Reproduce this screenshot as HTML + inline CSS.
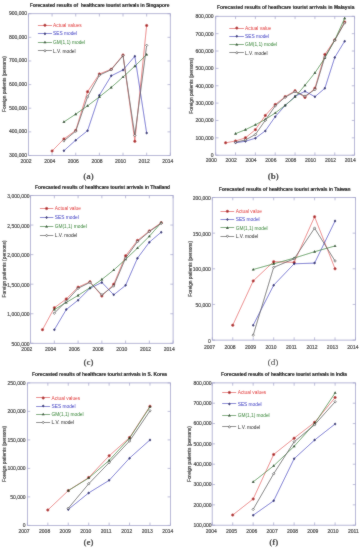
<!DOCTYPE html>
<html><head><meta charset="utf-8"><style>
html,body{margin:0;padding:0;background:#fff;}
svg{display:block;}
.t{font-family:"Liberation Sans",sans-serif;font-size:5.0px;fill:#2a2a2a;stroke:#2a2a2a;stroke-width:0.14px;}
.ti{font-family:"Liberation Sans",sans-serif;font-weight:bold;font-size:4.9px;fill:#000;stroke:#000;stroke-width:0.12px;}
.lg{font-family:"Liberation Sans",sans-serif;font-size:4.8px;}
.lab{font-family:"Liberation Serif",serif;font-weight:bold;font-size:9px;fill:#111;}
</style></head><body>
<svg width="363" height="550" viewBox="0 0 363 550">
<defs><filter id="bl" x="0" y="0" width="363" height="550" filterUnits="userSpaceOnUse"><feConvolveMatrix order="3" kernelMatrix="1 2 1 2 24 2 1 2 1" edgeMode="duplicate" preserveAlpha="true"/></filter></defs>
<rect width="363" height="550" fill="#fff"/>
<g filter="url(#bl)">
<rect width="363" height="550" fill="#fff"/>
<polyline points="52.09,151.01 63.91,138.96 75.73,130.45 87.55,91.69 99.38,73.97 111.20,69.24 123.02,55.06 134.84,141.32 146.66,25.52" fill="none" stroke="#e04040" stroke-width="0.62"/>
<circle cx="52.09" cy="151.01" r="1.25" fill="#a01212" stroke="#c82828" stroke-width="0.45"/>
<circle cx="63.91" cy="138.96" r="1.25" fill="#a01212" stroke="#c82828" stroke-width="0.45"/>
<circle cx="75.73" cy="130.45" r="1.25" fill="#a01212" stroke="#c82828" stroke-width="0.45"/>
<circle cx="87.55" cy="91.69" r="1.25" fill="#a01212" stroke="#c82828" stroke-width="0.45"/>
<circle cx="99.38" cy="73.97" r="1.25" fill="#a01212" stroke="#c82828" stroke-width="0.45"/>
<circle cx="111.20" cy="69.24" r="1.25" fill="#a01212" stroke="#c82828" stroke-width="0.45"/>
<circle cx="123.02" cy="55.06" r="1.25" fill="#a01212" stroke="#c82828" stroke-width="0.45"/>
<circle cx="134.84" cy="141.32" r="1.25" fill="#a01212" stroke="#c82828" stroke-width="0.45"/>
<circle cx="146.66" cy="25.52" r="1.25" fill="#a01212" stroke="#c82828" stroke-width="0.45"/>
<polyline points="63.91,150.77 75.73,140.14 87.55,130.69 99.38,95.23 111.20,75.86 123.02,69.95 134.84,56.24 146.66,133.05" fill="none" stroke="#3c3cc0" stroke-width="0.7"/>
<path d="M63.91 149.27L65.26 150.77L63.91 152.27L62.56 150.77Z" fill="#10106a"/>
<path d="M75.73 138.64L77.08 140.14L75.73 141.64L74.38 140.14Z" fill="#10106a"/>
<path d="M87.55 129.19L88.90 130.69L87.55 132.19L86.20 130.69Z" fill="#10106a"/>
<path d="M99.38 93.73L100.73 95.23L99.38 96.73L98.03 95.23Z" fill="#10106a"/>
<path d="M111.20 74.36L112.55 75.86L111.20 77.36L109.85 75.86Z" fill="#10106a"/>
<path d="M123.02 68.45L124.37 69.95L123.02 71.45L121.67 69.95Z" fill="#10106a"/>
<path d="M134.84 54.74L136.19 56.24L134.84 57.74L133.49 56.24Z" fill="#10106a"/>
<path d="M146.66 131.55L148.01 133.05L146.66 134.55L145.31 133.05Z" fill="#10106a"/>
<polyline points="63.91,121.94 75.73,114.14 87.55,105.87 99.38,96.89 111.20,87.44 123.02,77.04 134.84,66.17 146.66,54.59" fill="none" stroke="#2b802b" stroke-width="0.7"/>
<path d="M63.91 120.34L65.36 122.94L62.46 122.94Z" fill="#0e3e0e"/>
<path d="M75.73 112.54L77.18 115.14L74.28 115.14Z" fill="#0e3e0e"/>
<path d="M87.55 104.27L89.00 106.87L86.10 106.87Z" fill="#0e3e0e"/>
<path d="M99.38 95.29L100.83 97.89L97.93 97.89Z" fill="#0e3e0e"/>
<path d="M111.20 85.84L112.65 88.44L109.75 88.44Z" fill="#0e3e0e"/>
<path d="M123.02 75.44L124.47 78.04L121.57 78.04Z" fill="#0e3e0e"/>
<path d="M134.84 64.57L136.29 67.17L133.39 67.17Z" fill="#0e3e0e"/>
<path d="M146.66 52.99L148.11 55.59L145.21 55.59Z" fill="#0e3e0e"/>
<polyline points="63.91,140.85 75.73,131.16 87.55,96.89 99.38,75.15 111.20,69.71 123.02,55.77 134.84,135.41 146.66,45.37" fill="none" stroke="#454545" stroke-width="0.7"/>
<path d="M63.91 139.55L65.11 140.85L63.91 142.15L62.71 140.85Z" fill="#fff" fill-opacity="0.75" stroke="#3a3a3a" stroke-width="0.6"/>
<path d="M75.73 129.86L76.93 131.16L75.73 132.46L74.53 131.16Z" fill="#fff" fill-opacity="0.75" stroke="#3a3a3a" stroke-width="0.6"/>
<path d="M87.55 95.59L88.75 96.89L87.55 98.19L86.35 96.89Z" fill="#fff" fill-opacity="0.75" stroke="#3a3a3a" stroke-width="0.6"/>
<path d="M99.38 73.85L100.58 75.15L99.38 76.45L98.18 75.15Z" fill="#fff" fill-opacity="0.75" stroke="#3a3a3a" stroke-width="0.6"/>
<path d="M111.20 68.41L112.40 69.71L111.20 71.01L110.00 69.71Z" fill="#fff" fill-opacity="0.75" stroke="#3a3a3a" stroke-width="0.6"/>
<path d="M123.02 54.47L124.22 55.77L123.02 57.07L121.82 55.77Z" fill="#fff" fill-opacity="0.75" stroke="#3a3a3a" stroke-width="0.6"/>
<path d="M134.84 134.11L136.04 135.41L134.84 136.71L133.64 135.41Z" fill="#fff" fill-opacity="0.75" stroke="#3a3a3a" stroke-width="0.6"/>
<path d="M146.66 44.07L147.86 45.37L146.66 46.67L145.46 45.37Z" fill="#fff" fill-opacity="0.75" stroke="#3a3a3a" stroke-width="0.6"/>
<rect x="28.45" y="13.70" width="141.85" height="141.80" fill="none" stroke="#a2a2cc" stroke-width="0.8"/>
<path d="M28.45 155.50v-2.8M28.45 13.70v2.8" stroke="#a2a2cc" stroke-width="0.7"/>
<text x="26.10" y="163.10" text-anchor="middle" class="t">2002</text>
<path d="M52.09 155.50v-2.8M52.09 13.70v2.8" stroke="#a2a2cc" stroke-width="0.7"/>
<text x="49.72" y="163.10" text-anchor="middle" class="t">2004</text>
<path d="M75.73 155.50v-2.8M75.73 13.70v2.8" stroke="#a2a2cc" stroke-width="0.7"/>
<text x="73.33" y="163.10" text-anchor="middle" class="t">2006</text>
<path d="M99.38 155.50v-2.8M99.38 13.70v2.8" stroke="#a2a2cc" stroke-width="0.7"/>
<text x="96.95" y="163.10" text-anchor="middle" class="t">2008</text>
<path d="M123.02 155.50v-2.8M123.02 13.70v2.8" stroke="#a2a2cc" stroke-width="0.7"/>
<text x="120.57" y="163.10" text-anchor="middle" class="t">2010</text>
<path d="M146.66 155.50v-2.8M146.66 13.70v2.8" stroke="#a2a2cc" stroke-width="0.7"/>
<text x="144.18" y="163.10" text-anchor="middle" class="t">2012</text>
<path d="M170.30 155.50v-2.8M170.30 13.70v2.8" stroke="#a2a2cc" stroke-width="0.7"/>
<text x="167.80" y="163.10" text-anchor="middle" class="t">2014</text>
<path d="M28.45 155.50h2.8M170.30 155.50h-2.8" stroke="#a2a2cc" stroke-width="0.7"/>
<text x="27.10" y="157.00" text-anchor="end" class="t">300,000</text>
<path d="M28.45 131.87h2.8M170.30 131.87h-2.8" stroke="#a2a2cc" stroke-width="0.7"/>
<text x="27.10" y="133.37" text-anchor="end" class="t">400,000</text>
<path d="M28.45 108.23h2.8M170.30 108.23h-2.8" stroke="#a2a2cc" stroke-width="0.7"/>
<text x="27.10" y="109.73" text-anchor="end" class="t">500,000</text>
<path d="M28.45 84.60h2.8M170.30 84.60h-2.8" stroke="#a2a2cc" stroke-width="0.7"/>
<text x="27.10" y="86.10" text-anchor="end" class="t">600,000</text>
<path d="M28.45 60.97h2.8M170.30 60.97h-2.8" stroke="#a2a2cc" stroke-width="0.7"/>
<text x="27.10" y="62.47" text-anchor="end" class="t">700,000</text>
<path d="M28.45 37.33h2.8M170.30 37.33h-2.8" stroke="#a2a2cc" stroke-width="0.7"/>
<text x="27.10" y="38.83" text-anchor="end" class="t">800,000</text>
<path d="M28.45 13.70h2.8M170.30 13.70h-2.8" stroke="#a2a2cc" stroke-width="0.7"/>
<text x="27.10" y="15.20" text-anchor="end" class="t">900,000</text>
<text x="29.70" y="6.60" textLength="139.70" lengthAdjust="spacing" class="ti" style="white-space:pre">Forecasted results of  healthcare tourist arrivals in Singapore</text>
<text transform="translate(6.20,111.90) rotate(-90)" textLength="55.80" lengthAdjust="spacing" class="t" style="font-size:4.75px">Foreign patients (persons)</text>
<line x1="37.9" y1="25.50" x2="52.0" y2="25.50" stroke="#e04040" stroke-width="0.8" stroke-opacity="0.85"/>
<circle cx="44.95" cy="25.20" r="1.25" fill="#a01212" stroke="#c82828" stroke-width="0.45"/>
<text x="53.1" y="26.92" class="lg" style="fill:#e03030">Actual values</text>
<line x1="37.9" y1="33.50" x2="52.0" y2="33.50" stroke="#3c3cc0" stroke-width="0.8" stroke-opacity="0.85"/>
<path d="M44.95 32.23L46.30 33.73L44.95 35.23L43.60 33.73Z" fill="#10106a"/>
<text x="53.1" y="35.45" class="lg" style="fill:#3030c0">SES model</text>
<line x1="37.9" y1="42.50" x2="52.0" y2="42.50" stroke="#2b802b" stroke-width="0.8" stroke-opacity="0.85"/>
<path d="M44.95 40.66L46.40 43.26L43.50 43.26Z" fill="#0e3e0e"/>
<text x="53.1" y="43.98" class="lg" style="fill:#2a802a">GM(1,1) model</text>
<line x1="37.9" y1="50.50" x2="52.0" y2="50.50" stroke="#454545" stroke-width="0.8" stroke-opacity="0.85"/>
<path d="M44.95 49.49L46.15 50.79L44.95 52.09L43.75 50.79Z" fill="#fff" fill-opacity="0.75" stroke="#3a3a3a" stroke-width="0.6"/>
<text x="53.1" y="52.51" class="lg" style="fill:#111111">L.V. model</text>
<text x="88.50" y="178.85" text-anchor="middle" class="lab">(a)</text>
<polyline points="225.62,142.87 235.54,140.96 245.46,137.84 255.39,129.68 265.31,115.44 275.23,104.50 285.15,96.69 295.07,90.79 304.99,97.38 314.91,88.18 324.84,54.50 334.76,39.91 344.68,22.03" fill="none" stroke="#e04040" stroke-width="0.62"/>
<circle cx="225.62" cy="142.87" r="1.25" fill="#a01212" stroke="#c82828" stroke-width="0.45"/>
<circle cx="235.54" cy="140.96" r="1.25" fill="#a01212" stroke="#c82828" stroke-width="0.45"/>
<circle cx="245.46" cy="137.84" r="1.25" fill="#a01212" stroke="#c82828" stroke-width="0.45"/>
<circle cx="255.39" cy="129.68" r="1.25" fill="#a01212" stroke="#c82828" stroke-width="0.45"/>
<circle cx="265.31" cy="115.44" r="1.25" fill="#a01212" stroke="#c82828" stroke-width="0.45"/>
<circle cx="275.23" cy="104.50" r="1.25" fill="#a01212" stroke="#c82828" stroke-width="0.45"/>
<circle cx="285.15" cy="96.69" r="1.25" fill="#a01212" stroke="#c82828" stroke-width="0.45"/>
<circle cx="295.07" cy="90.79" r="1.25" fill="#a01212" stroke="#c82828" stroke-width="0.45"/>
<circle cx="304.99" cy="97.38" r="1.25" fill="#a01212" stroke="#c82828" stroke-width="0.45"/>
<circle cx="314.91" cy="88.18" r="1.25" fill="#a01212" stroke="#c82828" stroke-width="0.45"/>
<circle cx="324.84" cy="54.50" r="1.25" fill="#a01212" stroke="#c82828" stroke-width="0.45"/>
<circle cx="334.76" cy="39.91" r="1.25" fill="#a01212" stroke="#c82828" stroke-width="0.45"/>
<circle cx="344.68" cy="22.03" r="1.25" fill="#a01212" stroke="#c82828" stroke-width="0.45"/>
<polyline points="235.54,142.70 245.46,141.31 255.39,138.18 265.31,130.89 275.23,116.66 285.15,105.54 295.07,96.34 304.99,91.31 314.91,96.69 324.84,88.35 334.76,57.45 344.68,41.13" fill="none" stroke="#3c3cc0" stroke-width="0.7"/>
<path d="M235.54 141.20L236.89 142.70L235.54 144.20L234.19 142.70Z" fill="#10106a"/>
<path d="M245.46 139.81L246.81 141.31L245.46 142.81L244.11 141.31Z" fill="#10106a"/>
<path d="M255.39 136.68L256.74 138.18L255.39 139.68L254.04 138.18Z" fill="#10106a"/>
<path d="M265.31 129.39L266.66 130.89L265.31 132.39L263.96 130.89Z" fill="#10106a"/>
<path d="M275.23 115.16L276.58 116.66L275.23 118.16L273.88 116.66Z" fill="#10106a"/>
<path d="M285.15 104.04L286.50 105.54L285.15 107.04L283.80 105.54Z" fill="#10106a"/>
<path d="M295.07 94.84L296.42 96.34L295.07 97.84L293.72 96.34Z" fill="#10106a"/>
<path d="M304.99 89.81L306.34 91.31L304.99 92.81L303.64 91.31Z" fill="#10106a"/>
<path d="M314.91 95.19L316.26 96.69L314.91 98.19L313.56 96.69Z" fill="#10106a"/>
<path d="M324.84 86.85L326.19 88.35L324.84 89.85L323.49 88.35Z" fill="#10106a"/>
<path d="M334.76 55.95L336.11 57.45L334.76 58.95L333.41 57.45Z" fill="#10106a"/>
<path d="M344.68 39.63L346.03 41.13L344.68 42.63L343.33 41.13Z" fill="#10106a"/>
<polyline points="235.54,133.67 245.46,129.68 255.39,124.82 265.31,119.43 275.23,113.01 285.15,105.37 295.07,97.04 304.99,85.23 314.91,72.90 324.84,57.97 334.76,40.09 344.68,18.21" fill="none" stroke="#2b802b" stroke-width="0.7"/>
<path d="M235.54 132.07L236.99 134.67L234.09 134.67Z" fill="#0e3e0e"/>
<path d="M245.46 128.08L246.91 130.68L244.01 130.68Z" fill="#0e3e0e"/>
<path d="M255.39 123.22L256.84 125.82L253.94 125.82Z" fill="#0e3e0e"/>
<path d="M265.31 117.83L266.76 120.43L263.86 120.43Z" fill="#0e3e0e"/>
<path d="M275.23 111.41L276.68 114.01L273.78 114.01Z" fill="#0e3e0e"/>
<path d="M285.15 103.77L286.60 106.37L283.70 106.37Z" fill="#0e3e0e"/>
<path d="M295.07 95.44L296.52 98.04L293.62 98.04Z" fill="#0e3e0e"/>
<path d="M304.99 83.63L306.44 86.23L303.54 86.23Z" fill="#0e3e0e"/>
<path d="M314.91 71.30L316.36 73.90L313.46 73.90Z" fill="#0e3e0e"/>
<path d="M324.84 56.37L326.29 58.97L323.39 58.97Z" fill="#0e3e0e"/>
<path d="M334.76 38.49L336.21 41.09L333.31 41.09Z" fill="#0e3e0e"/>
<path d="M344.68 16.61L346.13 19.21L343.23 19.21Z" fill="#0e3e0e"/>
<polyline points="235.54,142.35 245.46,139.92 255.39,134.54 265.31,120.30 275.23,105.89 285.15,97.21 295.07,91.65 304.99,96.17 314.91,89.57 324.84,57.10 334.76,40.26 344.68,22.90" fill="none" stroke="#454545" stroke-width="0.7"/>
<path d="M235.54 141.05L236.74 142.35L235.54 143.65L234.34 142.35Z" fill="#fff" fill-opacity="0.75" stroke="#3a3a3a" stroke-width="0.6"/>
<path d="M245.46 138.62L246.66 139.92L245.46 141.22L244.26 139.92Z" fill="#fff" fill-opacity="0.75" stroke="#3a3a3a" stroke-width="0.6"/>
<path d="M255.39 133.24L256.59 134.54L255.39 135.84L254.19 134.54Z" fill="#fff" fill-opacity="0.75" stroke="#3a3a3a" stroke-width="0.6"/>
<path d="M265.31 119.00L266.51 120.30L265.31 121.60L264.11 120.30Z" fill="#fff" fill-opacity="0.75" stroke="#3a3a3a" stroke-width="0.6"/>
<path d="M275.23 104.59L276.43 105.89L275.23 107.19L274.03 105.89Z" fill="#fff" fill-opacity="0.75" stroke="#3a3a3a" stroke-width="0.6"/>
<path d="M285.15 95.91L286.35 97.21L285.15 98.51L283.95 97.21Z" fill="#fff" fill-opacity="0.75" stroke="#3a3a3a" stroke-width="0.6"/>
<path d="M295.07 90.35L296.27 91.65L295.07 92.95L293.87 91.65Z" fill="#fff" fill-opacity="0.75" stroke="#3a3a3a" stroke-width="0.6"/>
<path d="M304.99 94.87L306.19 96.17L304.99 97.47L303.79 96.17Z" fill="#fff" fill-opacity="0.75" stroke="#3a3a3a" stroke-width="0.6"/>
<path d="M314.91 88.27L316.11 89.57L314.91 90.87L313.71 89.57Z" fill="#fff" fill-opacity="0.75" stroke="#3a3a3a" stroke-width="0.6"/>
<path d="M324.84 55.80L326.04 57.10L324.84 58.40L323.64 57.10Z" fill="#fff" fill-opacity="0.75" stroke="#3a3a3a" stroke-width="0.6"/>
<path d="M334.76 38.96L335.96 40.26L334.76 41.56L333.56 40.26Z" fill="#fff" fill-opacity="0.75" stroke="#3a3a3a" stroke-width="0.6"/>
<path d="M344.68 21.60L345.88 22.90L344.68 24.20L343.48 22.90Z" fill="#fff" fill-opacity="0.75" stroke="#3a3a3a" stroke-width="0.6"/>
<rect x="215.70" y="16.30" width="138.90" height="138.90" fill="none" stroke="#a2a2cc" stroke-width="0.8"/>
<path d="M215.70 155.20v-2.8M215.70 16.30v2.8" stroke="#a2a2cc" stroke-width="0.7"/>
<text x="211.30" y="162.30" text-anchor="middle" class="t">2000</text>
<path d="M235.54 155.20v-2.8M235.54 16.30v2.8" stroke="#a2a2cc" stroke-width="0.7"/>
<text x="231.16" y="162.30" text-anchor="middle" class="t">2002</text>
<path d="M255.39 155.20v-2.8M255.39 16.30v2.8" stroke="#a2a2cc" stroke-width="0.7"/>
<text x="251.01" y="162.30" text-anchor="middle" class="t">2004</text>
<path d="M275.23 155.20v-2.8M275.23 16.30v2.8" stroke="#a2a2cc" stroke-width="0.7"/>
<text x="270.87" y="162.30" text-anchor="middle" class="t">2006</text>
<path d="M295.07 155.20v-2.8M295.07 16.30v2.8" stroke="#a2a2cc" stroke-width="0.7"/>
<text x="290.73" y="162.30" text-anchor="middle" class="t">2008</text>
<path d="M314.91 155.20v-2.8M314.91 16.30v2.8" stroke="#a2a2cc" stroke-width="0.7"/>
<text x="310.59" y="162.30" text-anchor="middle" class="t">2010</text>
<path d="M334.76 155.20v-2.8M334.76 16.30v2.8" stroke="#a2a2cc" stroke-width="0.7"/>
<text x="330.44" y="162.30" text-anchor="middle" class="t">2012</text>
<path d="M354.60 155.20v-2.8M354.60 16.30v2.8" stroke="#a2a2cc" stroke-width="0.7"/>
<text x="350.30" y="162.30" text-anchor="middle" class="t">2014</text>
<path d="M215.70 155.20h2.8M354.60 155.20h-2.8" stroke="#a2a2cc" stroke-width="0.7"/>
<text x="213.50" y="157.10" text-anchor="end" class="t">0</text>
<path d="M215.70 137.84h2.8M354.60 137.84h-2.8" stroke="#a2a2cc" stroke-width="0.7"/>
<text x="213.50" y="139.74" text-anchor="end" class="t">100,000</text>
<path d="M215.70 120.47h2.8M354.60 120.47h-2.8" stroke="#a2a2cc" stroke-width="0.7"/>
<text x="213.50" y="122.38" text-anchor="end" class="t">200,000</text>
<path d="M215.70 103.11h2.8M354.60 103.11h-2.8" stroke="#a2a2cc" stroke-width="0.7"/>
<text x="213.50" y="105.01" text-anchor="end" class="t">300,000</text>
<path d="M215.70 85.75h2.8M354.60 85.75h-2.8" stroke="#a2a2cc" stroke-width="0.7"/>
<text x="213.50" y="87.65" text-anchor="end" class="t">400,000</text>
<path d="M215.70 68.39h2.8M354.60 68.39h-2.8" stroke="#a2a2cc" stroke-width="0.7"/>
<text x="213.50" y="70.29" text-anchor="end" class="t">500,000</text>
<path d="M215.70 51.03h2.8M354.60 51.03h-2.8" stroke="#a2a2cc" stroke-width="0.7"/>
<text x="213.50" y="52.93" text-anchor="end" class="t">600,000</text>
<path d="M215.70 33.66h2.8M354.60 33.66h-2.8" stroke="#a2a2cc" stroke-width="0.7"/>
<text x="213.50" y="35.56" text-anchor="end" class="t">700,000</text>
<path d="M215.70 16.30h2.8M354.60 16.30h-2.8" stroke="#a2a2cc" stroke-width="0.7"/>
<text x="213.50" y="18.20" text-anchor="end" class="t">800,000</text>
<text x="216.90" y="8.75" textLength="137.50" lengthAdjust="spacing" class="ti" style="white-space:pre">Forecasted results of heathcare tourist arrivals in Malaysia</text>
<text transform="translate(192.75,113.65) rotate(-90)" textLength="55.80" lengthAdjust="spacing" class="t" style="font-size:4.75px">Foreign patients (persons)</text>
<line x1="229.3" y1="28.50" x2="243.9" y2="28.50" stroke="#e04040" stroke-width="0.8" stroke-opacity="0.85"/>
<circle cx="236.80" cy="28.10" r="1.25" fill="#a01212" stroke="#c82828" stroke-width="0.45"/>
<text x="245.1" y="29.82" class="lg" style="fill:#e03030">Actual value</text>
<line x1="229.3" y1="36.50" x2="243.9" y2="36.50" stroke="#3c3cc0" stroke-width="0.8" stroke-opacity="0.85"/>
<path d="M236.80 34.83L238.15 36.33L236.80 37.83L235.45 36.33Z" fill="#10106a"/>
<text x="245.1" y="38.05" class="lg" style="fill:#3030c0">SES model</text>
<line x1="229.3" y1="44.50" x2="243.9" y2="44.50" stroke="#2b802b" stroke-width="0.8" stroke-opacity="0.85"/>
<path d="M236.80 42.96L238.25 45.56L235.35 45.56Z" fill="#0e3e0e"/>
<text x="245.1" y="46.28" class="lg" style="fill:#2a802a">GM(1,1) model</text>
<line x1="229.3" y1="52.50" x2="243.9" y2="52.50" stroke="#454545" stroke-width="0.8" stroke-opacity="0.85"/>
<path d="M236.80 51.49L238.00 52.79L236.80 54.09L235.60 52.79Z" fill="#fff" fill-opacity="0.75" stroke="#3a3a3a" stroke-width="0.6"/>
<text x="245.1" y="54.51" class="lg" style="fill:#111111">L.V. model</text>
<text x="273.30" y="178.95" text-anchor="middle" class="lab">(b)</text>
<polyline points="42.48,329.70 54.35,307.83 66.22,298.96 78.10,287.14 89.97,281.82 101.85,296.00 113.72,284.18 125.60,255.80 137.47,240.43 149.35,230.97 161.22,222.70" fill="none" stroke="#e04040" stroke-width="0.62"/>
<circle cx="42.48" cy="329.70" r="1.25" fill="#a01212" stroke="#c82828" stroke-width="0.45"/>
<circle cx="54.35" cy="307.83" r="1.25" fill="#a01212" stroke="#c82828" stroke-width="0.45"/>
<circle cx="66.22" cy="298.96" r="1.25" fill="#a01212" stroke="#c82828" stroke-width="0.45"/>
<circle cx="78.10" cy="287.14" r="1.25" fill="#a01212" stroke="#c82828" stroke-width="0.45"/>
<circle cx="89.97" cy="281.82" r="1.25" fill="#a01212" stroke="#c82828" stroke-width="0.45"/>
<circle cx="101.85" cy="296.00" r="1.25" fill="#a01212" stroke="#c82828" stroke-width="0.45"/>
<circle cx="113.72" cy="284.18" r="1.25" fill="#a01212" stroke="#c82828" stroke-width="0.45"/>
<circle cx="125.60" cy="255.80" r="1.25" fill="#a01212" stroke="#c82828" stroke-width="0.45"/>
<circle cx="137.47" cy="240.43" r="1.25" fill="#a01212" stroke="#c82828" stroke-width="0.45"/>
<circle cx="149.35" cy="230.97" r="1.25" fill="#a01212" stroke="#c82828" stroke-width="0.45"/>
<circle cx="161.22" cy="222.70" r="1.25" fill="#a01212" stroke="#c82828" stroke-width="0.45"/>
<polyline points="54.35,329.70 66.22,309.60 78.10,300.14 89.97,288.32 101.85,282.41 113.72,294.82 125.60,285.36 137.47,258.17 149.35,242.20 161.22,232.15" fill="none" stroke="#3c3cc0" stroke-width="0.7"/>
<path d="M54.35 328.20L55.70 329.70L54.35 331.20L53.00 329.70Z" fill="#10106a"/>
<path d="M66.22 308.10L67.57 309.60L66.22 311.10L64.88 309.60Z" fill="#10106a"/>
<path d="M78.10 298.64L79.45 300.14L78.10 301.64L76.75 300.14Z" fill="#10106a"/>
<path d="M89.97 286.82L91.32 288.32L89.97 289.82L88.62 288.32Z" fill="#10106a"/>
<path d="M101.85 280.91L103.20 282.41L101.85 283.91L100.50 282.41Z" fill="#10106a"/>
<path d="M113.72 293.32L115.07 294.82L113.72 296.32L112.38 294.82Z" fill="#10106a"/>
<path d="M125.60 283.86L126.95 285.36L125.60 286.86L124.25 285.36Z" fill="#10106a"/>
<path d="M137.47 256.67L138.82 258.17L137.47 259.67L136.12 258.17Z" fill="#10106a"/>
<path d="M149.35 240.70L150.70 242.20L149.35 243.70L148.00 242.20Z" fill="#10106a"/>
<path d="M161.22 230.65L162.57 232.15L161.22 233.65L159.88 232.15Z" fill="#10106a"/>
<polyline points="54.35,309.60 66.22,302.51 78.10,295.41 89.97,287.73 101.85,279.45 113.72,269.99 125.60,259.35 137.47,248.12 149.35,236.29 161.22,222.70" fill="none" stroke="#2b802b" stroke-width="0.7"/>
<path d="M54.35 308.00L55.80 310.60L52.90 310.60Z" fill="#0e3e0e"/>
<path d="M66.22 300.91L67.67 303.51L64.77 303.51Z" fill="#0e3e0e"/>
<path d="M78.10 293.81L79.55 296.41L76.65 296.41Z" fill="#0e3e0e"/>
<path d="M89.97 286.13L91.42 288.73L88.52 288.73Z" fill="#0e3e0e"/>
<path d="M101.85 277.85L103.30 280.45L100.40 280.45Z" fill="#0e3e0e"/>
<path d="M113.72 268.39L115.17 270.99L112.27 270.99Z" fill="#0e3e0e"/>
<path d="M125.60 257.75L127.05 260.35L124.15 260.35Z" fill="#0e3e0e"/>
<path d="M137.47 246.52L138.92 249.12L136.03 249.12Z" fill="#0e3e0e"/>
<path d="M149.35 234.69L150.80 237.29L147.90 237.29Z" fill="#0e3e0e"/>
<path d="M161.22 221.10L162.67 223.70L159.78 223.70Z" fill="#0e3e0e"/>
<polyline points="54.35,313.15 66.22,301.32 78.10,288.32 89.97,282.41 101.85,294.82 113.72,285.95 125.60,258.17 137.47,241.61 149.35,231.56 161.22,223.29" fill="none" stroke="#454545" stroke-width="0.7"/>
<path d="M54.35 311.85L55.55 313.15L54.35 314.45L53.15 313.15Z" fill="#fff" fill-opacity="0.75" stroke="#3a3a3a" stroke-width="0.6"/>
<path d="M66.22 300.02L67.42 301.32L66.22 302.62L65.02 301.32Z" fill="#fff" fill-opacity="0.75" stroke="#3a3a3a" stroke-width="0.6"/>
<path d="M78.10 287.02L79.30 288.32L78.10 289.62L76.90 288.32Z" fill="#fff" fill-opacity="0.75" stroke="#3a3a3a" stroke-width="0.6"/>
<path d="M89.97 281.11L91.17 282.41L89.97 283.71L88.77 282.41Z" fill="#fff" fill-opacity="0.75" stroke="#3a3a3a" stroke-width="0.6"/>
<path d="M101.85 293.52L103.05 294.82L101.85 296.12L100.65 294.82Z" fill="#fff" fill-opacity="0.75" stroke="#3a3a3a" stroke-width="0.6"/>
<path d="M113.72 284.65L114.92 285.95L113.72 287.25L112.52 285.95Z" fill="#fff" fill-opacity="0.75" stroke="#3a3a3a" stroke-width="0.6"/>
<path d="M125.60 256.87L126.80 258.17L125.60 259.47L124.40 258.17Z" fill="#fff" fill-opacity="0.75" stroke="#3a3a3a" stroke-width="0.6"/>
<path d="M137.47 240.31L138.67 241.61L137.47 242.91L136.28 241.61Z" fill="#fff" fill-opacity="0.75" stroke="#3a3a3a" stroke-width="0.6"/>
<path d="M149.35 230.26L150.55 231.56L149.35 232.86L148.15 231.56Z" fill="#fff" fill-opacity="0.75" stroke="#3a3a3a" stroke-width="0.6"/>
<path d="M161.22 221.99L162.42 223.29L161.22 224.59L160.03 223.29Z" fill="#fff" fill-opacity="0.75" stroke="#3a3a3a" stroke-width="0.6"/>
<rect x="30.60" y="195.50" width="142.50" height="147.80" fill="none" stroke="#a2a2cc" stroke-width="0.8"/>
<path d="M30.60 343.30v-2.8M30.60 195.50v2.8" stroke="#a2a2cc" stroke-width="0.7"/>
<text x="26.75" y="351.20" text-anchor="middle" class="t">2002</text>
<path d="M54.35 343.30v-2.8M54.35 195.50v2.8" stroke="#a2a2cc" stroke-width="0.7"/>
<text x="50.49" y="351.20" text-anchor="middle" class="t">2004</text>
<path d="M78.10 343.30v-2.8M78.10 195.50v2.8" stroke="#a2a2cc" stroke-width="0.7"/>
<text x="74.23" y="351.20" text-anchor="middle" class="t">2006</text>
<path d="M101.85 343.30v-2.8M101.85 195.50v2.8" stroke="#a2a2cc" stroke-width="0.7"/>
<text x="97.97" y="351.20" text-anchor="middle" class="t">2008</text>
<path d="M125.60 343.30v-2.8M125.60 195.50v2.8" stroke="#a2a2cc" stroke-width="0.7"/>
<text x="121.72" y="351.20" text-anchor="middle" class="t">2010</text>
<path d="M149.35 343.30v-2.8M149.35 195.50v2.8" stroke="#a2a2cc" stroke-width="0.7"/>
<text x="145.46" y="351.20" text-anchor="middle" class="t">2012</text>
<path d="M173.10 343.30v-2.8M173.10 195.50v2.8" stroke="#a2a2cc" stroke-width="0.7"/>
<text x="169.20" y="351.20" text-anchor="middle" class="t">2014</text>
<path d="M30.60 343.30h2.8M173.10 343.30h-2.8" stroke="#a2a2cc" stroke-width="0.7"/>
<text x="29.50" y="346.00" text-anchor="end" class="t">500,000</text>
<path d="M30.60 313.74h2.8M173.10 313.74h-2.8" stroke="#a2a2cc" stroke-width="0.7"/>
<text x="29.50" y="316.44" text-anchor="end" class="t">1,000,000</text>
<path d="M30.60 284.18h2.8M173.10 284.18h-2.8" stroke="#a2a2cc" stroke-width="0.7"/>
<text x="29.50" y="286.88" text-anchor="end" class="t">1,500,000</text>
<path d="M30.60 254.62h2.8M173.10 254.62h-2.8" stroke="#a2a2cc" stroke-width="0.7"/>
<text x="29.50" y="257.32" text-anchor="end" class="t">2,000,000</text>
<path d="M30.60 225.06h2.8M173.10 225.06h-2.8" stroke="#a2a2cc" stroke-width="0.7"/>
<text x="29.50" y="227.76" text-anchor="end" class="t">2,500,000</text>
<path d="M30.60 195.50h2.8M173.10 195.50h-2.8" stroke="#a2a2cc" stroke-width="0.7"/>
<text x="29.50" y="198.20" text-anchor="end" class="t">3,000,000</text>
<text x="35.00" y="188.55" textLength="135.10" lengthAdjust="spacing" class="ti" style="white-space:pre">Forecasted results of healthcare tourist arrivals in Thailand</text>
<text transform="translate(6.30,297.40) rotate(-90)" textLength="57.00" lengthAdjust="spacing" class="t" style="font-size:4.75px">Foreign patients (persons)</text>
<line x1="39.9" y1="208.50" x2="53.3" y2="208.50" stroke="#e04040" stroke-width="0.8" stroke-opacity="0.85"/>
<circle cx="46.60" cy="208.50" r="1.25" fill="#a01212" stroke="#c82828" stroke-width="0.45"/>
<text x="54.8" y="210.22" class="lg" style="fill:#e03030">Actual value</text>
<line x1="39.9" y1="217.50" x2="53.3" y2="217.50" stroke="#3c3cc0" stroke-width="0.8" stroke-opacity="0.85"/>
<path d="M46.60 216.00L47.95 217.50L46.60 219.00L45.25 217.50Z" fill="#10106a"/>
<text x="54.8" y="219.22" class="lg" style="fill:#3030c0">SES model</text>
<line x1="39.9" y1="226.50" x2="53.3" y2="226.50" stroke="#2b802b" stroke-width="0.8" stroke-opacity="0.85"/>
<path d="M46.60 224.90L48.05 227.50L45.15 227.50Z" fill="#0e3e0e"/>
<text x="54.8" y="228.22" class="lg" style="fill:#2a802a">GM(1,1) model</text>
<line x1="39.9" y1="235.50" x2="53.3" y2="235.50" stroke="#454545" stroke-width="0.8" stroke-opacity="0.85"/>
<path d="M46.60 234.20L47.80 235.50L46.60 236.80L45.40 235.50Z" fill="#fff" fill-opacity="0.75" stroke="#3a3a3a" stroke-width="0.6"/>
<text x="54.8" y="237.22" class="lg" style="fill:#111111">L.V. model</text>
<text x="88.40" y="365.00" text-anchor="middle" class="lab">(c)</text>
<polyline points="232.76,325.13 253.21,280.92 273.67,261.67 294.13,262.38 314.59,216.75 335.04,268.80" fill="none" stroke="#e04040" stroke-width="0.62"/>
<circle cx="232.76" cy="325.13" r="1.25" fill="#a01212" stroke="#c82828" stroke-width="0.45"/>
<circle cx="253.21" cy="280.92" r="1.25" fill="#a01212" stroke="#c82828" stroke-width="0.45"/>
<circle cx="273.67" cy="261.67" r="1.25" fill="#a01212" stroke="#c82828" stroke-width="0.45"/>
<circle cx="294.13" cy="262.38" r="1.25" fill="#a01212" stroke="#c82828" stroke-width="0.45"/>
<circle cx="314.59" cy="216.75" r="1.25" fill="#a01212" stroke="#c82828" stroke-width="0.45"/>
<circle cx="335.04" cy="268.80" r="1.25" fill="#a01212" stroke="#c82828" stroke-width="0.45"/>
<polyline points="253.21,325.13 273.67,285.20 294.13,263.81 314.59,263.10 335.04,221.03" fill="none" stroke="#3c3cc0" stroke-width="0.7"/>
<path d="M253.21 323.63L254.56 325.13L253.21 326.63L251.86 325.13Z" fill="#10106a"/>
<path d="M273.67 283.70L275.02 285.20L273.67 286.70L272.32 285.20Z" fill="#10106a"/>
<path d="M294.13 262.31L295.48 263.81L294.13 265.31L292.78 263.81Z" fill="#10106a"/>
<path d="M314.59 261.60L315.94 263.10L314.59 264.60L313.24 263.10Z" fill="#10106a"/>
<path d="M335.04 219.53L336.39 221.03L335.04 222.53L333.69 221.03Z" fill="#10106a"/>
<polyline points="253.21,269.51 273.67,263.81 294.13,258.11 314.59,251.69 335.04,245.98" fill="none" stroke="#2b802b" stroke-width="0.7"/>
<path d="M253.21 267.91L254.66 270.51L251.76 270.51Z" fill="#0e3e0e"/>
<path d="M273.67 262.21L275.12 264.81L272.22 264.81Z" fill="#0e3e0e"/>
<path d="M294.13 256.50L295.58 259.11L292.68 259.11Z" fill="#0e3e0e"/>
<path d="M314.59 250.09L316.04 252.69L313.14 252.69Z" fill="#0e3e0e"/>
<path d="M335.04 244.38L336.49 246.98L333.59 246.98Z" fill="#0e3e0e"/>
<polyline points="253.21,335.11 273.67,267.37 294.13,258.82 314.59,228.16 335.04,260.96" fill="none" stroke="#454545" stroke-width="0.7"/>
<path d="M253.21 333.81L254.41 335.11L253.21 336.41L252.01 335.11Z" fill="#fff" fill-opacity="0.75" stroke="#3a3a3a" stroke-width="0.6"/>
<path d="M273.67 266.07L274.87 267.37L273.67 268.67L272.47 267.37Z" fill="#fff" fill-opacity="0.75" stroke="#3a3a3a" stroke-width="0.6"/>
<path d="M294.13 257.52L295.33 258.82L294.13 260.12L292.93 258.82Z" fill="#fff" fill-opacity="0.75" stroke="#3a3a3a" stroke-width="0.6"/>
<path d="M314.59 226.86L315.79 228.16L314.59 229.46L313.39 228.16Z" fill="#fff" fill-opacity="0.75" stroke="#3a3a3a" stroke-width="0.6"/>
<path d="M335.04 259.66L336.24 260.96L335.04 262.26L333.84 260.96Z" fill="#fff" fill-opacity="0.75" stroke="#3a3a3a" stroke-width="0.6"/>
<rect x="212.30" y="197.50" width="143.20" height="142.60" fill="none" stroke="#a2a2cc" stroke-width="0.8"/>
<path d="M212.30 340.10v-2.8M212.30 197.50v2.8" stroke="#a2a2cc" stroke-width="0.7"/>
<text x="209.60" y="349.20" text-anchor="middle" class="t">2007</text>
<path d="M232.76 340.10v-2.8M232.76 197.50v2.8" stroke="#a2a2cc" stroke-width="0.7"/>
<text x="230.07" y="349.20" text-anchor="middle" class="t">2008</text>
<path d="M253.21 340.10v-2.8M253.21 197.50v2.8" stroke="#a2a2cc" stroke-width="0.7"/>
<text x="250.54" y="349.20" text-anchor="middle" class="t">2009</text>
<path d="M273.67 340.10v-2.8M273.67 197.50v2.8" stroke="#a2a2cc" stroke-width="0.7"/>
<text x="271.01" y="349.20" text-anchor="middle" class="t">2010</text>
<path d="M294.13 340.10v-2.8M294.13 197.50v2.8" stroke="#a2a2cc" stroke-width="0.7"/>
<text x="291.49" y="349.20" text-anchor="middle" class="t">2011</text>
<path d="M314.59 340.10v-2.8M314.59 197.50v2.8" stroke="#a2a2cc" stroke-width="0.7"/>
<text x="311.96" y="349.20" text-anchor="middle" class="t">2012</text>
<path d="M335.04 340.10v-2.8M335.04 197.50v2.8" stroke="#a2a2cc" stroke-width="0.7"/>
<text x="332.43" y="349.20" text-anchor="middle" class="t">2013</text>
<path d="M355.50 340.10v-2.8M355.50 197.50v2.8" stroke="#a2a2cc" stroke-width="0.7"/>
<text x="352.90" y="349.20" text-anchor="middle" class="t">2014</text>
<path d="M212.30 340.10h2.8M355.50 340.10h-2.8" stroke="#a2a2cc" stroke-width="0.7"/>
<text x="210.90" y="342.70" text-anchor="end" class="t">0</text>
<path d="M212.30 304.45h2.8M355.50 304.45h-2.8" stroke="#a2a2cc" stroke-width="0.7"/>
<text x="210.90" y="307.05" text-anchor="end" class="t">50,000</text>
<path d="M212.30 268.80h2.8M355.50 268.80h-2.8" stroke="#a2a2cc" stroke-width="0.7"/>
<text x="210.90" y="271.40" text-anchor="end" class="t">100,000</text>
<path d="M212.30 233.15h2.8M355.50 233.15h-2.8" stroke="#a2a2cc" stroke-width="0.7"/>
<text x="210.90" y="235.75" text-anchor="end" class="t">150,000</text>
<path d="M212.30 197.50h2.8M355.50 197.50h-2.8" stroke="#a2a2cc" stroke-width="0.7"/>
<text x="210.90" y="200.10" text-anchor="end" class="t">200,000</text>
<text x="218.70" y="190.55" textLength="131.70" lengthAdjust="spacing" class="ti" style="white-space:pre">Forecasted results of healthcare tourist arrivals in Taiwan</text>
<text transform="translate(192.25,296.70) rotate(-90)" textLength="55.80" lengthAdjust="spacing" class="t" style="font-size:4.75px">Foreign patients (persons)</text>
<line x1="220.5" y1="211.50" x2="234.2" y2="211.50" stroke="#e04040" stroke-width="0.8" stroke-opacity="0.85"/>
<circle cx="227.40" cy="211.30" r="1.25" fill="#a01212" stroke="#c82828" stroke-width="0.45"/>
<text x="235.7" y="213.02" class="lg" style="fill:#e03030">Actual value</text>
<line x1="220.5" y1="219.50" x2="234.2" y2="219.50" stroke="#3c3cc0" stroke-width="0.8" stroke-opacity="0.85"/>
<path d="M227.40 218.10L228.75 219.60L227.40 221.10L226.05 219.60Z" fill="#10106a"/>
<text x="235.7" y="221.32" class="lg" style="fill:#3030c0">SES model</text>
<line x1="220.5" y1="227.50" x2="234.2" y2="227.50" stroke="#2b802b" stroke-width="0.8" stroke-opacity="0.85"/>
<path d="M227.40 226.30L228.85 228.90L225.95 228.90Z" fill="#0e3e0e"/>
<text x="235.7" y="229.62" class="lg" style="fill:#2a802a">GM(1,1) model</text>
<line x1="220.5" y1="236.50" x2="234.2" y2="236.50" stroke="#454545" stroke-width="0.8" stroke-opacity="0.85"/>
<path d="M227.40 234.90L228.60 236.20L227.40 237.50L226.20 236.20Z" fill="#fff" fill-opacity="0.75" stroke="#3a3a3a" stroke-width="0.6"/>
<text x="235.7" y="237.92" class="lg" style="fill:#111111">L.V. model</text>
<text x="273.05" y="365.00" text-anchor="middle" class="lab" style="font-weight:normal">(d)</text>
<polyline points="47.83,510.01 68.26,490.63 88.69,477.52 109.11,455.86 129.54,437.62 149.97,406.27" fill="none" stroke="#e04040" stroke-width="0.62"/>
<circle cx="47.83" cy="510.01" r="1.25" fill="#a01212" stroke="#c82828" stroke-width="0.45"/>
<circle cx="68.26" cy="490.63" r="1.25" fill="#a01212" stroke="#c82828" stroke-width="0.45"/>
<circle cx="88.69" cy="477.52" r="1.25" fill="#a01212" stroke="#c82828" stroke-width="0.45"/>
<circle cx="109.11" cy="455.86" r="1.25" fill="#a01212" stroke="#c82828" stroke-width="0.45"/>
<circle cx="129.54" cy="437.62" r="1.25" fill="#a01212" stroke="#c82828" stroke-width="0.45"/>
<circle cx="149.97" cy="406.27" r="1.25" fill="#a01212" stroke="#c82828" stroke-width="0.45"/>
<polyline points="68.26,509.44 88.69,492.91 109.11,480.37 129.54,458.14 149.97,439.90" fill="none" stroke="#3c3cc0" stroke-width="0.7"/>
<path d="M68.26 507.94L69.61 509.44L68.26 510.94L66.91 509.44Z" fill="#10106a"/>
<path d="M88.69 491.41L90.04 492.91L88.69 494.41L87.34 492.91Z" fill="#10106a"/>
<path d="M109.11 478.87L110.46 480.37L109.11 481.87L107.76 480.37Z" fill="#10106a"/>
<path d="M129.54 456.64L130.89 458.14L129.54 459.64L128.19 458.14Z" fill="#10106a"/>
<path d="M149.97 438.40L151.32 439.90L149.97 441.40L148.62 439.90Z" fill="#10106a"/>
<polyline points="68.26,490.63 88.69,478.09 109.11,460.42 129.54,438.19 149.97,406.84" fill="none" stroke="#2b802b" stroke-width="0.7"/>
<path d="M68.26 489.03L69.71 491.63L66.81 491.63Z" fill="#0e3e0e"/>
<path d="M88.69 476.49L90.14 479.09L87.24 479.09Z" fill="#0e3e0e"/>
<path d="M109.11 458.82L110.56 461.42L107.66 461.42Z" fill="#0e3e0e"/>
<path d="M129.54 436.59L130.99 439.19L128.09 439.19Z" fill="#0e3e0e"/>
<path d="M149.97 405.24L151.42 407.84L148.52 407.84Z" fill="#0e3e0e"/>
<polyline points="68.26,508.30 88.69,483.79 109.11,462.70 129.54,441.04 149.97,410.83" fill="none" stroke="#454545" stroke-width="0.7"/>
<path d="M68.26 507.00L69.46 508.30L68.26 509.60L67.06 508.30Z" fill="#fff" fill-opacity="0.75" stroke="#3a3a3a" stroke-width="0.6"/>
<path d="M88.69 482.49L89.89 483.79L88.69 485.09L87.49 483.79Z" fill="#fff" fill-opacity="0.75" stroke="#3a3a3a" stroke-width="0.6"/>
<path d="M109.11 461.40L110.31 462.70L109.11 464.00L107.91 462.70Z" fill="#fff" fill-opacity="0.75" stroke="#3a3a3a" stroke-width="0.6"/>
<path d="M129.54 439.74L130.74 441.04L129.54 442.34L128.34 441.04Z" fill="#fff" fill-opacity="0.75" stroke="#3a3a3a" stroke-width="0.6"/>
<path d="M149.97 409.53L151.17 410.83L149.97 412.13L148.77 410.83Z" fill="#fff" fill-opacity="0.75" stroke="#3a3a3a" stroke-width="0.6"/>
<rect x="27.40" y="382.90" width="143.00" height="142.50" fill="none" stroke="#a2a2cc" stroke-width="0.8"/>
<path d="M27.40 525.40v-2.8M27.40 382.90v2.8" stroke="#a2a2cc" stroke-width="0.7"/>
<text x="24.10" y="533.25" text-anchor="middle" class="t">2007</text>
<path d="M47.83 525.40v-2.8M47.83 382.90v2.8" stroke="#a2a2cc" stroke-width="0.7"/>
<text x="44.63" y="533.25" text-anchor="middle" class="t">2008</text>
<path d="M68.26 525.40v-2.8M68.26 382.90v2.8" stroke="#a2a2cc" stroke-width="0.7"/>
<text x="65.16" y="533.25" text-anchor="middle" class="t">2009</text>
<path d="M88.69 525.40v-2.8M88.69 382.90v2.8" stroke="#a2a2cc" stroke-width="0.7"/>
<text x="85.69" y="533.25" text-anchor="middle" class="t">2010</text>
<path d="M109.11 525.40v-2.8M109.11 382.90v2.8" stroke="#a2a2cc" stroke-width="0.7"/>
<text x="106.21" y="533.25" text-anchor="middle" class="t">2011</text>
<path d="M129.54 525.40v-2.8M129.54 382.90v2.8" stroke="#a2a2cc" stroke-width="0.7"/>
<text x="126.74" y="533.25" text-anchor="middle" class="t">2012</text>
<path d="M149.97 525.40v-2.8M149.97 382.90v2.8" stroke="#a2a2cc" stroke-width="0.7"/>
<text x="147.27" y="533.25" text-anchor="middle" class="t">2013</text>
<path d="M170.40 525.40v-2.8M170.40 382.90v2.8" stroke="#a2a2cc" stroke-width="0.7"/>
<text x="167.80" y="533.25" text-anchor="middle" class="t">2014</text>
<path d="M27.40 525.40h2.8M170.40 525.40h-2.8" stroke="#a2a2cc" stroke-width="0.7"/>
<text x="25.50" y="527.30" text-anchor="end" class="t">0</text>
<path d="M27.40 496.90h2.8M170.40 496.90h-2.8" stroke="#a2a2cc" stroke-width="0.7"/>
<text x="25.50" y="498.80" text-anchor="end" class="t">50,000</text>
<path d="M27.40 468.40h2.8M170.40 468.40h-2.8" stroke="#a2a2cc" stroke-width="0.7"/>
<text x="25.50" y="470.30" text-anchor="end" class="t">100,000</text>
<path d="M27.40 439.90h2.8M170.40 439.90h-2.8" stroke="#a2a2cc" stroke-width="0.7"/>
<text x="25.50" y="441.80" text-anchor="end" class="t">150,000</text>
<path d="M27.40 411.40h2.8M170.40 411.40h-2.8" stroke="#a2a2cc" stroke-width="0.7"/>
<text x="25.50" y="413.30" text-anchor="end" class="t">200,000</text>
<path d="M27.40 382.90h2.8M170.40 382.90h-2.8" stroke="#a2a2cc" stroke-width="0.7"/>
<text x="25.50" y="384.80" text-anchor="end" class="t">250,000</text>
<text x="32.10" y="375.50" textLength="135.00" lengthAdjust="spacing" class="ti" style="white-space:pre">Forecasted results of healthcare tourist arrivals in S. Korea</text>
<text transform="translate(6.20,481.90) rotate(-90)" textLength="56.10" lengthAdjust="spacing" class="t" style="font-size:4.75px">Foreign patients (persons)</text>
<line x1="36.1" y1="397.50" x2="50.1" y2="397.50" stroke="#e04040" stroke-width="0.8" stroke-opacity="0.85"/>
<circle cx="43.20" cy="397.90" r="1.25" fill="#a01212" stroke="#c82828" stroke-width="0.45"/>
<text x="51.6" y="399.62" class="lg" style="fill:#e03030">Actual values</text>
<line x1="36.1" y1="406.50" x2="50.1" y2="406.50" stroke="#3c3cc0" stroke-width="0.8" stroke-opacity="0.85"/>
<path d="M43.20 404.57L44.55 406.07L43.20 407.57L41.85 406.07Z" fill="#10106a"/>
<text x="51.6" y="407.79" class="lg" style="fill:#3030c0">SES model</text>
<line x1="36.1" y1="414.50" x2="50.1" y2="414.50" stroke="#2b802b" stroke-width="0.8" stroke-opacity="0.85"/>
<path d="M43.20 412.64L44.65 415.24L41.75 415.24Z" fill="#0e3e0e"/>
<text x="51.6" y="415.96" class="lg" style="fill:#2a802a">GM(1,1) model</text>
<line x1="36.1" y1="422.50" x2="50.1" y2="422.50" stroke="#454545" stroke-width="0.8" stroke-opacity="0.85"/>
<path d="M43.20 421.11L44.40 422.41L43.20 423.71L42.00 422.41Z" fill="#fff" fill-opacity="0.75" stroke="#3a3a3a" stroke-width="0.6"/>
<text x="51.6" y="424.13" class="lg" style="fill:#111111">L.V. model</text>
<text x="88.40" y="544.85" text-anchor="middle" class="lab">(e)</text>
<polyline points="232.69,515.04 253.17,498.98 273.66,454.46 294.14,438.19 314.63,422.34 335.11,397.54" fill="none" stroke="#e04040" stroke-width="0.62"/>
<circle cx="232.69" cy="515.04" r="1.25" fill="#a01212" stroke="#c82828" stroke-width="0.45"/>
<circle cx="253.17" cy="498.98" r="1.25" fill="#a01212" stroke="#c82828" stroke-width="0.45"/>
<circle cx="273.66" cy="454.46" r="1.25" fill="#a01212" stroke="#c82828" stroke-width="0.45"/>
<circle cx="294.14" cy="438.19" r="1.25" fill="#a01212" stroke="#c82828" stroke-width="0.45"/>
<circle cx="314.63" cy="422.34" r="1.25" fill="#a01212" stroke="#c82828" stroke-width="0.45"/>
<circle cx="335.11" cy="397.54" r="1.25" fill="#a01212" stroke="#c82828" stroke-width="0.45"/>
<polyline points="253.17,515.24 273.66,500.81 294.14,458.73 314.63,440.02 335.11,423.96" fill="none" stroke="#3c3cc0" stroke-width="0.7"/>
<path d="M253.17 513.74L254.52 515.24L253.17 516.74L251.82 515.24Z" fill="#10106a"/>
<path d="M273.66 499.31L275.01 500.81L273.66 502.31L272.31 500.81Z" fill="#10106a"/>
<path d="M294.14 457.23L295.49 458.73L294.14 460.23L292.79 458.73Z" fill="#10106a"/>
<path d="M314.63 438.52L315.98 440.02L314.63 441.52L313.28 440.02Z" fill="#10106a"/>
<path d="M335.11 422.46L336.46 423.96L335.11 425.46L333.76 423.96Z" fill="#10106a"/>
<polyline points="253.17,481.90 273.66,465.84 294.14,446.33 314.63,423.56 335.11,392.86" fill="none" stroke="#2b802b" stroke-width="0.7"/>
<path d="M253.17 480.30L254.62 482.90L251.72 482.90Z" fill="#0e3e0e"/>
<path d="M273.66 464.24L275.11 466.84L272.21 466.84Z" fill="#0e3e0e"/>
<path d="M294.14 444.73L295.59 447.33L292.69 447.33Z" fill="#0e3e0e"/>
<path d="M314.63 421.96L316.08 424.56L313.18 424.56Z" fill="#0e3e0e"/>
<path d="M335.11 391.26L336.56 393.86L333.66 393.86Z" fill="#0e3e0e"/>
<polyline points="253.17,509.34 273.66,473.77 294.14,441.85 314.63,424.78 335.11,401.81" fill="none" stroke="#454545" stroke-width="0.7"/>
<path d="M253.17 508.04L254.37 509.34L253.17 510.64L251.97 509.34Z" fill="#fff" fill-opacity="0.75" stroke="#3a3a3a" stroke-width="0.6"/>
<path d="M273.66 472.47L274.86 473.77L273.66 475.07L272.46 473.77Z" fill="#fff" fill-opacity="0.75" stroke="#3a3a3a" stroke-width="0.6"/>
<path d="M294.14 440.55L295.34 441.85L294.14 443.15L292.94 441.85Z" fill="#fff" fill-opacity="0.75" stroke="#3a3a3a" stroke-width="0.6"/>
<path d="M314.63 423.48L315.83 424.78L314.63 426.08L313.43 424.78Z" fill="#fff" fill-opacity="0.75" stroke="#3a3a3a" stroke-width="0.6"/>
<path d="M335.11 400.51L336.31 401.81L335.11 403.11L333.91 401.81Z" fill="#fff" fill-opacity="0.75" stroke="#3a3a3a" stroke-width="0.6"/>
<rect x="212.20" y="382.90" width="143.40" height="142.30" fill="none" stroke="#a2a2cc" stroke-width="0.8"/>
<path d="M212.20 525.20v-2.8M212.20 382.90v2.8" stroke="#a2a2cc" stroke-width="0.7"/>
<text x="211.20" y="533.15" text-anchor="middle" class="t">2004</text>
<path d="M232.69 525.20v-2.8M232.69 382.90v2.8" stroke="#a2a2cc" stroke-width="0.7"/>
<text x="231.51" y="533.15" text-anchor="middle" class="t">2005</text>
<path d="M253.17 525.20v-2.8M253.17 382.90v2.8" stroke="#a2a2cc" stroke-width="0.7"/>
<text x="251.83" y="533.15" text-anchor="middle" class="t">2006</text>
<path d="M273.66 525.20v-2.8M273.66 382.90v2.8" stroke="#a2a2cc" stroke-width="0.7"/>
<text x="272.14" y="533.15" text-anchor="middle" class="t">2007</text>
<path d="M294.14 525.20v-2.8M294.14 382.90v2.8" stroke="#a2a2cc" stroke-width="0.7"/>
<text x="292.46" y="533.15" text-anchor="middle" class="t">2008</text>
<path d="M314.63 525.20v-2.8M314.63 382.90v2.8" stroke="#a2a2cc" stroke-width="0.7"/>
<text x="312.77" y="533.15" text-anchor="middle" class="t">2009</text>
<path d="M335.11 525.20v-2.8M335.11 382.90v2.8" stroke="#a2a2cc" stroke-width="0.7"/>
<text x="333.09" y="533.15" text-anchor="middle" class="t">2010</text>
<path d="M355.60 525.20v-2.8M355.60 382.90v2.8" stroke="#a2a2cc" stroke-width="0.7"/>
<text x="353.40" y="533.15" text-anchor="middle" class="t">2011</text>
<path d="M212.20 525.20h2.8M355.60 525.20h-2.8" stroke="#a2a2cc" stroke-width="0.7"/>
<text x="211.50" y="527.00" text-anchor="end" class="t">100,000</text>
<path d="M212.20 504.87h2.8M355.60 504.87h-2.8" stroke="#a2a2cc" stroke-width="0.7"/>
<text x="211.50" y="506.67" text-anchor="end" class="t">200,000</text>
<path d="M212.20 484.54h2.8M355.60 484.54h-2.8" stroke="#a2a2cc" stroke-width="0.7"/>
<text x="211.50" y="486.34" text-anchor="end" class="t">300,000</text>
<path d="M212.20 464.21h2.8M355.60 464.21h-2.8" stroke="#a2a2cc" stroke-width="0.7"/>
<text x="211.50" y="466.01" text-anchor="end" class="t">400,000</text>
<path d="M212.20 443.89h2.8M355.60 443.89h-2.8" stroke="#a2a2cc" stroke-width="0.7"/>
<text x="211.50" y="445.69" text-anchor="end" class="t">500,000</text>
<path d="M212.20 423.56h2.8M355.60 423.56h-2.8" stroke="#a2a2cc" stroke-width="0.7"/>
<text x="211.50" y="425.36" text-anchor="end" class="t">600,000</text>
<path d="M212.20 403.23h2.8M355.60 403.23h-2.8" stroke="#a2a2cc" stroke-width="0.7"/>
<text x="211.50" y="405.03" text-anchor="end" class="t">700,000</text>
<path d="M212.20 382.90h2.8M355.60 382.90h-2.8" stroke="#a2a2cc" stroke-width="0.7"/>
<text x="211.50" y="384.70" text-anchor="end" class="t">800,000</text>
<text x="221.00" y="375.50" textLength="126.00" lengthAdjust="spacing" class="ti" style="white-space:pre">Forecasted results of healthcare tourist arrivals in India</text>
<text transform="translate(191.25,481.95) rotate(-90)" textLength="55.80" lengthAdjust="spacing" class="t" style="font-size:4.75px">Foreign patients (persons)</text>
<line x1="222.2" y1="392.50" x2="236.2" y2="392.50" stroke="#e04040" stroke-width="0.8" stroke-opacity="0.85"/>
<circle cx="229.40" cy="392.50" r="1.25" fill="#a01212" stroke="#c82828" stroke-width="0.45"/>
<text x="237.7" y="394.22" class="lg" style="fill:#e03030">Actual values</text>
<line x1="222.2" y1="403.50" x2="236.2" y2="403.50" stroke="#3c3cc0" stroke-width="0.8" stroke-opacity="0.85"/>
<path d="M229.40 402.47L230.75 403.97L229.40 405.47L228.05 403.97Z" fill="#10106a"/>
<text x="237.7" y="405.69" class="lg" style="fill:#3030c0">SES model</text>
<line x1="222.2" y1="415.50" x2="236.2" y2="415.50" stroke="#2b802b" stroke-width="0.8" stroke-opacity="0.85"/>
<path d="M229.40 413.84L230.85 416.44L227.95 416.44Z" fill="#0e3e0e"/>
<text x="237.7" y="417.16" class="lg" style="fill:#2a802a">GM(1,1) model</text>
<line x1="222.2" y1="426.50" x2="236.2" y2="426.50" stroke="#454545" stroke-width="0.8" stroke-opacity="0.85"/>
<path d="M229.40 425.61L230.60 426.91L229.40 428.21L228.20 426.91Z" fill="#fff" fill-opacity="0.75" stroke="#3a3a3a" stroke-width="0.6"/>
<text x="237.7" y="428.63" class="lg" style="fill:#111111">L.V. model</text>
<text x="273.65" y="544.85" text-anchor="middle" class="lab">(f)</text>
</g>
</svg>
</body></html>
